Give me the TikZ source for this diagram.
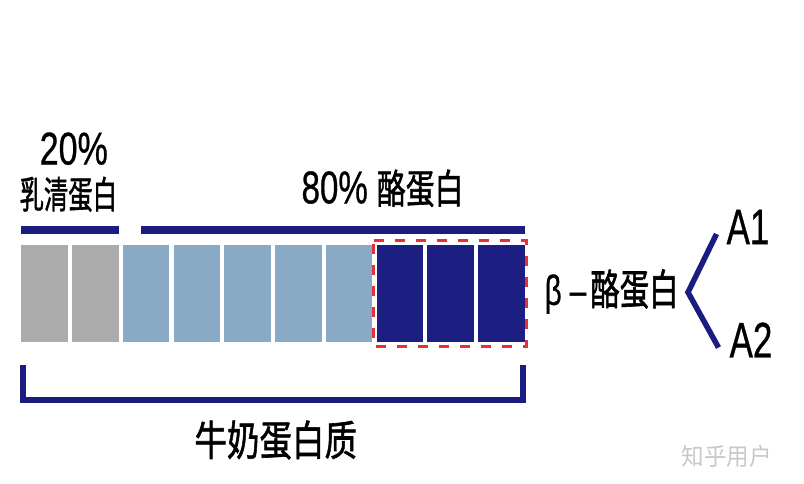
\documentclass[tikz,border=0pt]{standalone}
\usepackage{fontspec}
\setmainfont[FakeBold=0.8]{Liberation Sans}
\newfontfamily\cjk[FakeBold=1.5]{Noto Sans CJK SC}
\newfontfamily\cjkmark{Noto Sans CJK SC}
\definecolor{navy}{RGB}{27,28,128}
\definecolor{wheygray}{RGB}{171,171,171}
\definecolor{caseinblue}{RGB}{138,169,196}
\definecolor{betablue}{RGB}{28,30,130}
\definecolor{dashred}{RGB}{228,48,58}
\definecolor{markgray}{RGB}{200,200,200}
\newcommand\fsz[1]{\fontsize{#1}{#1}\selectfont}
\newcommand\squash[2]{\scalebox{#1}[1]{#2}}
\tikzset{
  txt/.style={inner sep=0pt, outer sep=0pt},
  bar/.style={line width=8pt, color=navy},
  bracket/.style={line width=6.5pt, color=navy, miter limit=4},
}
\begin{document}
\begin{tikzpicture}[x=1pt,y=-1pt]
  \useasboundingbox (0,0) rectangle (804,483);
  % whey, casein and beta boxes
  \foreach \qq/\boxcol [evaluate=\qq as \qqshft using 21.3+\qq*50.75]
    in {0/wheygray,1/wheygray,2/caseinblue,3/caseinblue,4/caseinblue,
        5/caseinblue,6/caseinblue,7/betablue,8/betablue,9/betablue}
   {
    \fill[\boxcol] (\qqshft,245) rectangle ++(46.5,97);
   }
  % bars over the boxes
  \draw[bar] (21.3,230) -- (119,230);
  \draw[bar] (141,230) -- (525,230);
  \draw[dashred, line width=3pt, dash pattern=on 10pt off 11pt, dash phase=-4pt]
    (373,240) rectangle (526.5,346);
  %bracket
  \draw[bracket] (23,365) -- (23,400) -- (523,400) -- (523,365);
  % texts
  \node[txt] (wheypct) at (73.8,148.7) {\fsz{46}\squash{0.74}{20\%}};
  \node[txt] (wheyname) at (68.3,194.3) {\cjk\fsz{37.5}\squash{0.65}{乳清蛋白}};
  \node[txt] (casein) at (382.5,188.3)
    {\squash{0.72}{\fsz{46}80\% {\cjk\fsz{40}酪蛋白}}};
  \node[txt] (milk) at (275.8,440) {\cjk\fsz{41.7}\squash{0.78}{牛奶蛋白质}};
  \node[txt] (beta) at (611.7,291.5)
    {\squash{0.7}{\fsz{42}β –\hspace{6pt}{\cjk 酪蛋白}}};
  \node[txt] (aone) at (748,227) {\fsz{50}\squash{0.7}{A1}};
  \node[txt] (atwo) at (751,340) {\fsz{50}\squash{0.7}{A2}};
  \node[txt, text=markgray] (mark) at (726.7,456)
    {\cjkmark\fsz{24}\squash{0.94}{知乎用户}};
  % fork to A1 and A2
  \coordinate (forktop) at (716.5,234);
  \coordinate (forktip) at (688,292.3);
  \coordinate (forkbot) at (718.5,347.5);
  \draw[line width=5.5pt, navy] (forktop) -- (forktip) -- (forkbot);
\end{tikzpicture}
\end{document}
